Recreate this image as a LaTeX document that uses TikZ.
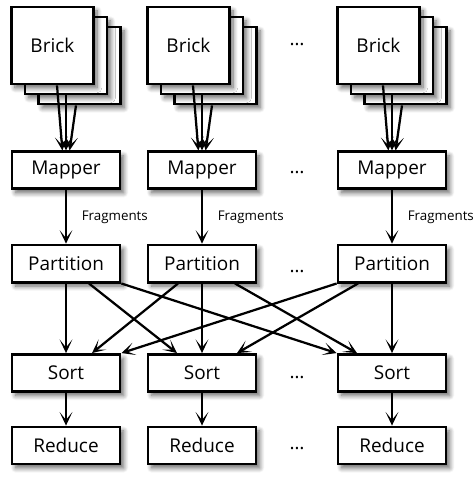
\documentclass[tikz,border=0pt]{standalone}
\usepackage{fontspec}
\setmainfont{Open Sans}
\usetikzlibrary{arrows.meta, positioning, shadows.blur}
\tikzset{
  stage/.style={rectangle, draw=black, line width=2pt, fill=white, minimum width=2.7cm, minimum height=0.925cm, inner sep=0pt, font=\fontsize{13.5}{15}\selectfont, blur shadow={shadow xshift=0.09cm, shadow yshift=-0.1cm, shadow blur radius=0.12cm, shadow blur steps=8, shadow opacity=60}},
  brick/.style={stage, minimum width=2.05cm, minimum height=1.925cm},
  flow/.style={-{Stealth[length=3.4mm, width=3.2mm, inset=2mm]}, line width=1.6pt},
  fraglabel/.style={font=\fontsize{9.5}{11}\selectfont, right=0.25cm},
  dots/.style={font=\fontsize{13.5}{15}\selectfont},
}
\begin{document}
\begin{tikzpicture}
  \useasboundingbox (0,0) rectangle (11.85,12.05);

  % Brick stacks (back to front)
  \node[brick] (b1c) at (1.99, 10.4125) {};
  \node[brick] (b1b) at (1.65, 10.6625) {};
  \node[brick] (b1a) at (1.31, 10.9125) {Brick};
  \node[brick] (b2c) at (5.39, 10.4125) {};
  \node[brick] (b2b) at (5.05, 10.6625) {};
  \node[brick] (b2a) at (4.71, 10.9125) {Brick};
  \node[brick] (b3c) at (10.14, 10.4125) {};
  \node[brick] (b3b) at (9.8, 10.6625) {};
  \node[brick] (b3a) at (9.46, 10.9125) {Brick};

  % Mappers
  \node[stage] (m1) at (1.65, 7.79) {Mapper};
  \node[stage] (m2) at (5.05, 7.79) {Mapper};
  \node[stage] (m3) at (9.8, 7.79) {Mapper};

  % Partitions
  \node[stage] (p1) at (1.65, 5.46) {Partition};
  \node[stage] (p2) at (5.05, 5.46) {Partition};
  \node[stage] (p3) at (9.8, 5.46) {Partition};

  % Sorts
  \node[stage] (s1) at (1.65, 2.725) {Sort};
  \node[stage] (s2) at (5.05, 2.725) {Sort};
  \node[stage] (s3) at (9.8, 2.725) {Sort};

  % Reducers
  \node[stage] (r1) at (1.65, 0.9125) {Reduce};
  \node[stage] (r2) at (5.05, 0.9125) {Reduce};
  \node[stage] (r3) at (9.8, 0.9125) {Reduce};

  % Ellipses between columns
  \node[dots] (d1) at (7.425, 10.925) {\dots};
  \node[dots] (d2) at (7.425, 7.725) {\dots};
  \node[dots] (d3) at (7.425, 5.25) {\dots};
  \node[dots] (d4) at (7.425, 2.6) {\dots};
  \node[dots] (d5) at (7.425, 0.825) {\dots};

  % Bricks to mappers
  \draw[flow] ([xshift=0.115cm]b1a.south) -- ([xshift=-0.09cm]m1.north);
  \draw[flow] (b1b.south) -- (m1.north);
  \draw[flow] ([xshift=-0.09cm]b1c.south) -- ([xshift=0.09cm]m1.north);
  \draw[flow] ([xshift=0.115cm]b2a.south) -- ([xshift=-0.09cm]m2.north);
  \draw[flow] (b2b.south) -- (m2.north);
  \draw[flow] ([xshift=-0.09cm]b2c.south) -- ([xshift=0.09cm]m2.north);
  \draw[flow] ([xshift=0.115cm]b3a.south) -- ([xshift=-0.09cm]m3.north);
  \draw[flow] (b3b.south) -- (m3.north);
  \draw[flow] ([xshift=-0.09cm]b3c.south) -- ([xshift=0.09cm]m3.north);

  % Mappers to partitions
  \draw[flow] (m1) -- node[fraglabel] {Fragments} (p1);
  \draw[flow] (m2) -- node[fraglabel] {Fragments} (p2);
  \draw[flow] (m3) -- node[fraglabel] {Fragments} (p3);

  % Shuffle
  \draw[flow] (p1) -- (s1);
  \draw[flow] ([xshift=0.575cm]p1.south) -- ([xshift=-0.625cm]s2.north);
  \draw[flow] (p1.south east) -- (s3.north west);
  \draw[flow] ([xshift=-0.6cm]p2.south) -- ([xshift=0.65cm]s1.north);
  \draw[flow] (p2) -- (s2);
  \draw[flow] ([xshift=0.825cm]p2.south) -- ([xshift=-0.875cm]s3.north);
  \draw[flow] (p3.south west) -- (s1.north east);
  \draw[flow] ([xshift=-0.85cm]p3.south) -- ([xshift=0.875cm]s2.north);
  \draw[flow] (p3) -- (s3);

  % Sorts to reducers
  \draw[flow] (s1) -- (r1);
  \draw[flow] (s2) -- (r2);
  \draw[flow] (s3) -- (r3);
\end{tikzpicture}
\end{document}
